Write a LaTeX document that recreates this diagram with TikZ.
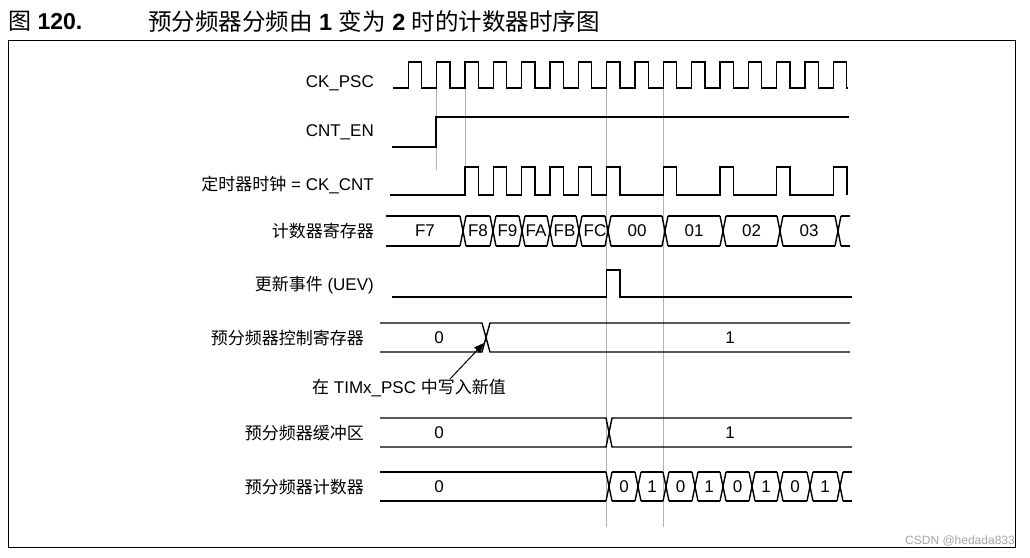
\documentclass[tikz,border=0pt]{standalone}
\usepackage{fontspec}
\setmainfont{Liberation Sans}
\newfontfamily\cjk{Noto Sans CJK SC}
\usetikzlibrary{arrows.meta}
\begin{document}
\begin{tikzpicture}[x=1pt,y=-1pt,
  sig/.style={line width=1.4pt,line join=miter},
  guide/.style={draw=gray!60,line width=0.8pt},
  lbl/.style={anchor=east,font=\fontsize{17}{19}\selectfont,inner sep=0pt},
  val/.style={font=\fontsize{17}{19}\selectfont,inner sep=0pt}]
\useasboundingbox (0,0) rectangle (1030,557);
\fill[white] (0,0) rectangle (1030,557);
% title
\node[anchor=west,inner sep=0pt,font=\fontsize{23}{25}\selectfont] (fig) at (8,21) {{\cjk 图} \textbf{120.}};
\node[anchor=west,inner sep=0pt,font=\fontsize{23.5}{25}\selectfont] (title) at (148,21) {{\cjk 预分频器分频由} \textbf{1} {\cjk 变为} \textbf{2} {\cjk 时的计数器时序图}};
\draw[line width=0.8pt] (8,40) rectangle (1015,547);
% guide lines
\draw[guide] (436,88) -- (436,170);
\draw[guide] (465,88) -- (465,167);
\draw[guide] (606.7,88) -- (606.7,527);
\draw[guide] (663.3,88) -- (663.3,527);
% labels
\node[lbl] (l1) at (374,83) {CK\_PSC};
\node[lbl] (l2) at (374,132) {CNT\_EN};
\node[lbl] (l3) at (374,185) {{\cjk 定时器时钟} = CK\_CNT};
\node[lbl] (l4) at (374,231) {{\cjk 计数器寄存器}};
\node[lbl] (l5) at (374,285) {{\cjk 更新事件} (UEV)};
\node[lbl] (l6) at (364,338) {{\cjk 预分频器控制寄存器}};
\node[lbl] (l7) at (364,433) {{\cjk 预分频器缓冲区}};
\node[lbl] (l8) at (364,487) {{\cjk 预分频器计数器}};
% CK_PSC
\draw[sig] (393,88)
  \foreach \i in {0,...,15} { -- ({408.3+28.33*\i},88) -- ({408.3+28.33*\i},62) -- ({421.6+28.33*\i},62) -- ({421.6+28.33*\i},88) }
  -- (847,88);
% CNT_EN
\draw[sig] (392,147) -- (436,147) -- (436,117) -- (849,117);
% CK_CNT
\draw[sig] (390,195)
  \foreach \t in {465,493.3,521.7,550,578.3,606.7,663.3,720,776.7} { -- (\t,195) -- (\t,167) -- ({\t+13.3},167) -- ({\t+13.3},195) }
  -- (833.3,195) -- (833.3,167) -- (847,167) -- (847,195);
% counter register
\draw[sig] (386,216) -- (460,216);
\draw[sig] (386,246) -- (460,246);
\foreach \a/\b in {463/493,493/522,522/550,550/579,579/608,608/665,665/723,723/780,780/838} {
  \draw[sig] ({\a-3},216) -- ({\a+3},246) ({\a-3},246) -- ({\a+3},216);
  \draw[sig] ({\a+3},216) -- ({\b-3},216) ({\a+3},246) -- ({\b-3},246);
}
\draw[sig] (835,216) -- (841,246) (835,246) -- (841,216);
\draw[sig] (841,216) -- (850,216) (841,246) -- (850,246);
\node[val] (c1) at (425,231) {F7};
\node[val] (c2) at (478,231) {F8};
\node[val] (c3) at (507.5,231) {F9};
\node[val] (c4) at (536,231) {FA};
\node[val] (c5) at (564.5,231) {FB};
\node[val] (c6) at (595,231) {FC};
\node[val] (c7) at (637,231) {00};
\node[val] (c8) at (694,231) {01};
\node[val] (c9) at (751.5,231) {02};
\node[val] (c10) at (809,231) {03};
% UEV
\draw[sig] (392,297) -- (606.7,297) -- (606.7,270) -- (620,270) -- (620,297) -- (852,297);
% prescaler control register
\draw[sig] (380,323) -- (482,323) -- (490,352) -- (850,352);
\draw[sig] (380,352) -- (482,352) -- (490,323) -- (850,323);
\node[val] (p0) at (439,338) {0};
\node[val] (p1) at (730,338) {1};
\node[inner sep=0pt,font=\fontsize{17}{19}\selectfont] (note) at (409,388) {{\cjk 在} TIMx\_PSC {\cjk 中写入新值}};
\coordinate (tip) at (484,343);
\draw[line width=1pt,-{Triangle[length=10pt,width=8pt]}] (450,379) -- (tip);
% buffer
\draw[sig] (380,418) -- (606,418) -- (612,447) -- (852,447);
\draw[sig] (380,447) -- (606,447) -- (612,418) -- (852,418);
\node[val] (b0) at (439,433) {0};
\node[val] (b1) at (730,433) {1};
% prescaler counter
\draw[sig] (380,472) -- (606,472);
\draw[sig] (380,501) -- (606,501);
\foreach \a/\b in {609/638,638/666,666/695,695/723,723/752,752/780,780/810,810/840} {
  \draw[sig] ({\a-3},472) -- ({\a+3},501) ({\a-3},501) -- ({\a+3},472);
  \draw[sig] ({\a+3},472) -- ({\b-3},472) ({\a+3},501) -- ({\b-3},501);
}
\draw[sig] (837,472) -- (843,501) (837,501) -- (843,472);
\draw[sig] (843,472) -- (852,472) (843,501) -- (852,501);
\node[val] (q0) at (439,487) {0};
\foreach \x/\v [count=\k] in {624/0,652/1,680.5/0,709/1,737.5/0,766/1,795/0,825/1} {
  \node[val] (q\k) at (\x,487) {\v};
}
% watermark
\node[anchor=east,inner sep=0pt,text=gray!70,font=\fontsize{12}{14}\selectfont] (wm) at (1015,541) {CSDN @hedada833};
\end{tikzpicture}
\end{document}
